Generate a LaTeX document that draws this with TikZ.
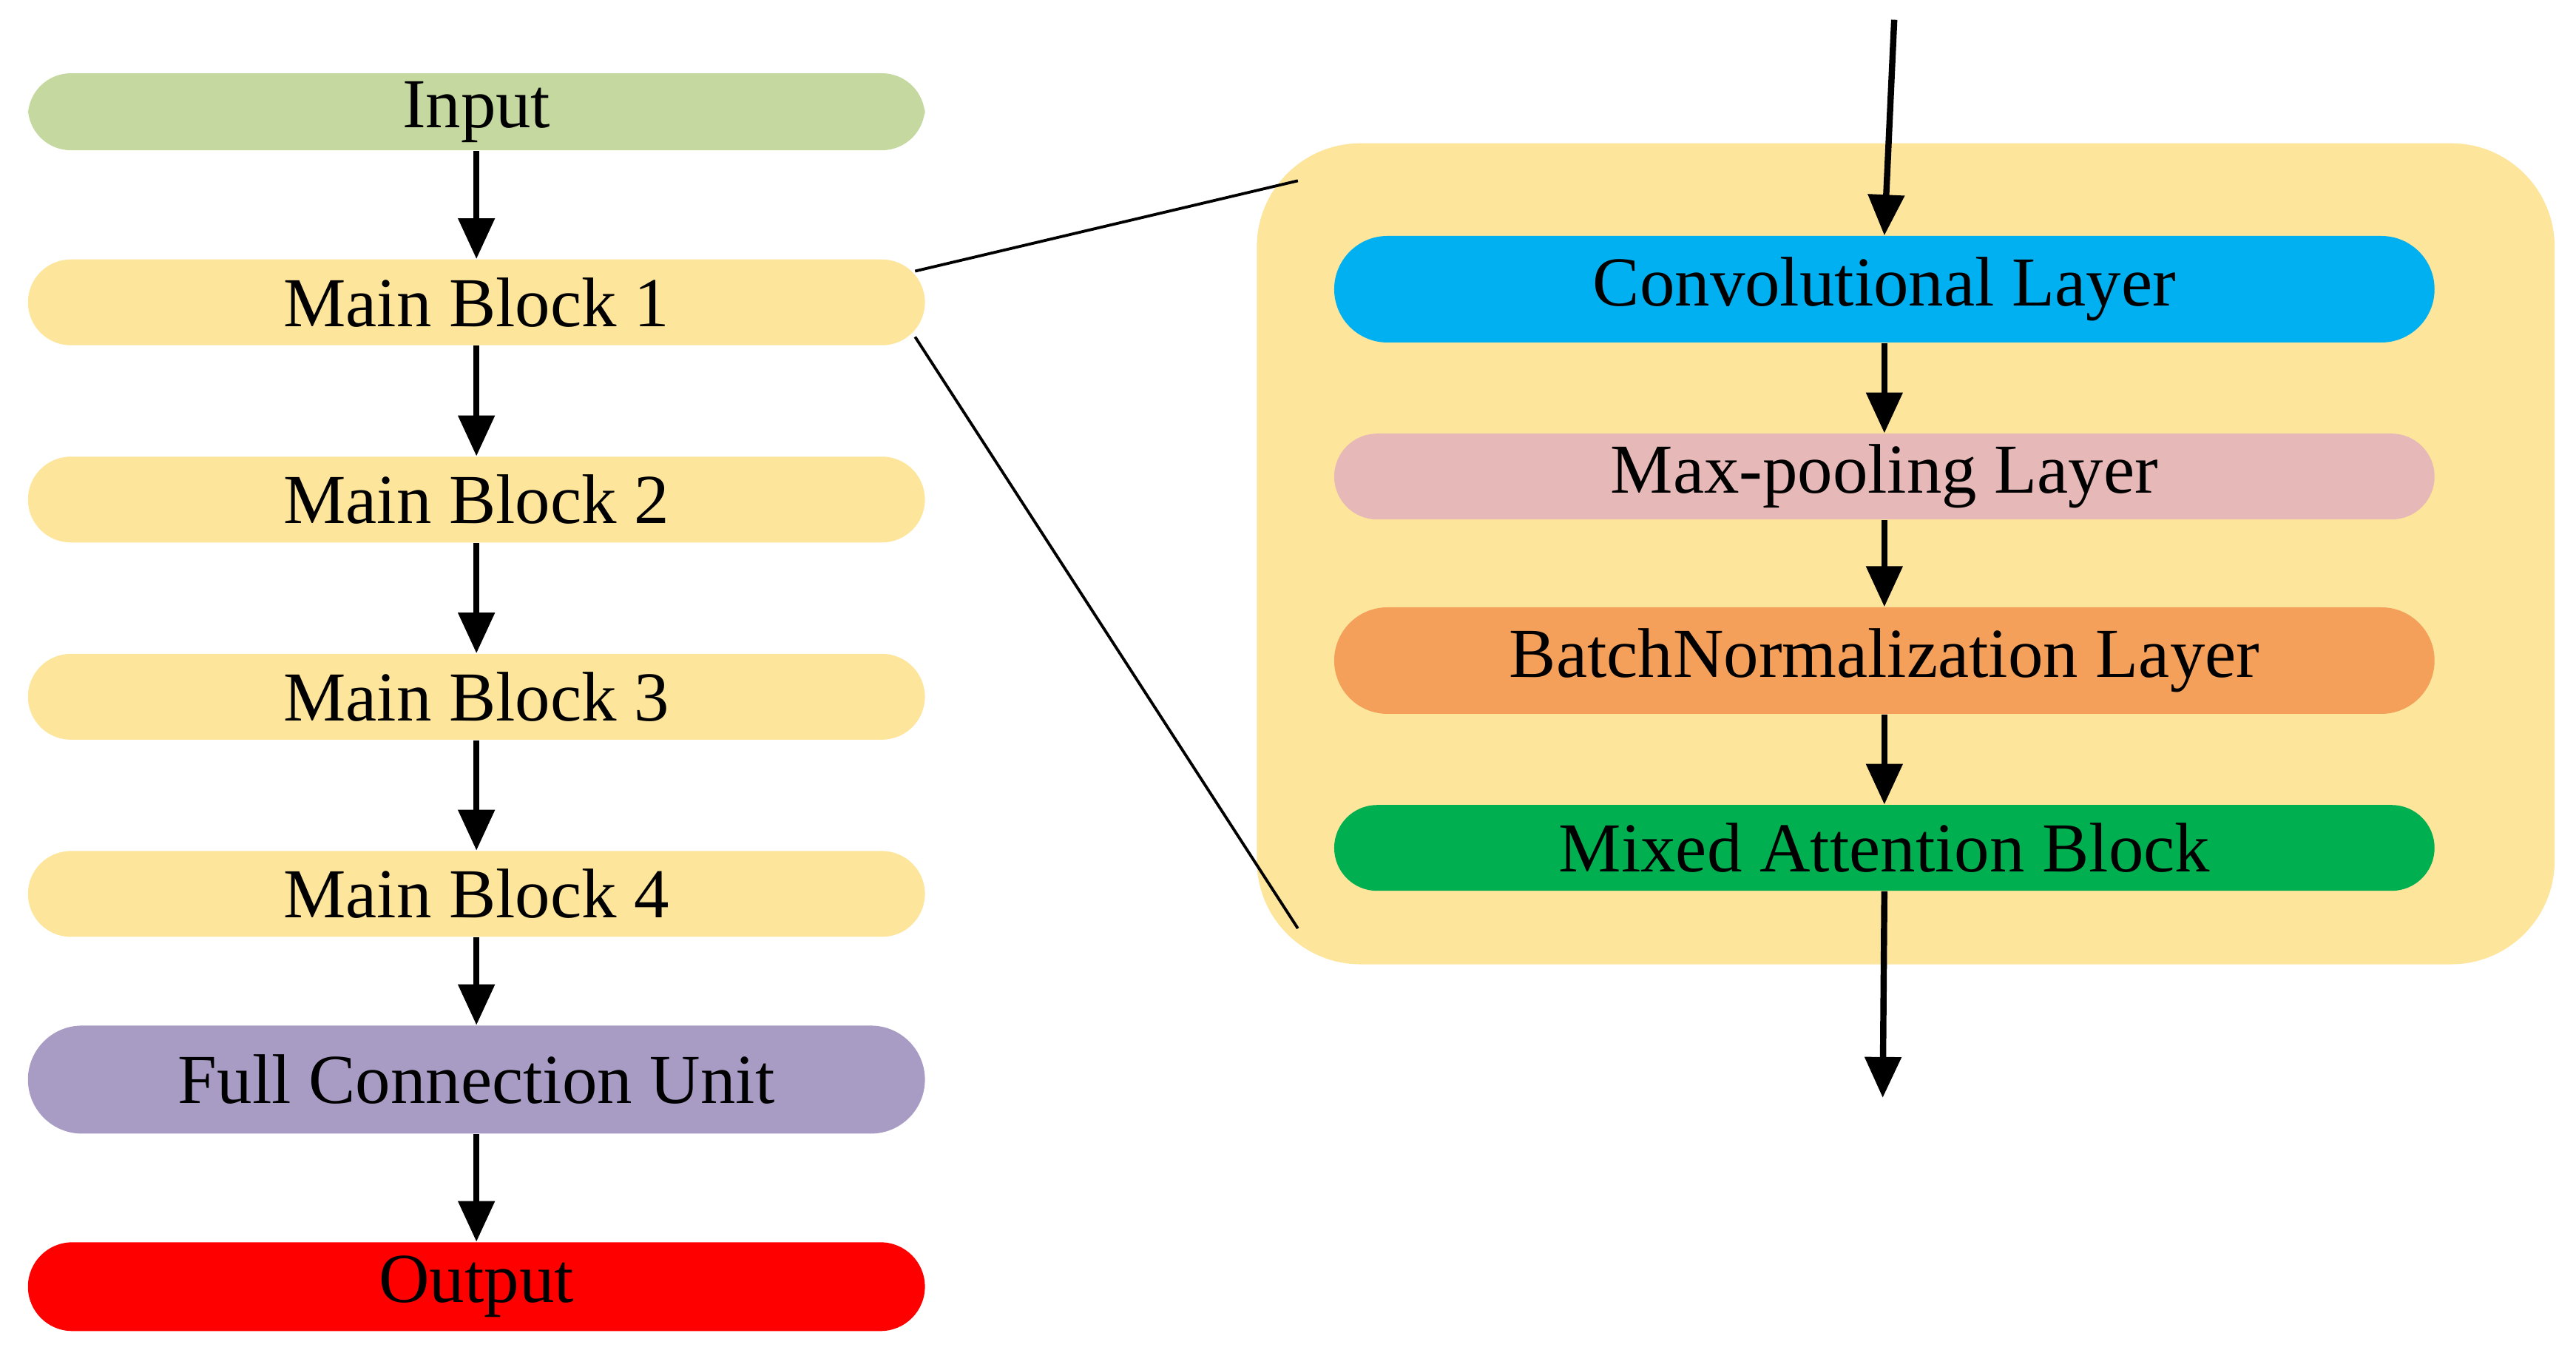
\documentclass[tikz,border=0pt]{standalone}
\usepackage{fontspec}
\setmainfont{Liberation Serif}
\usetikzlibrary{arrows.meta}
\definecolor{cin}{HTML}{C4D8A0}
\definecolor{cmb}{HTML}{FDE59C}
\definecolor{cfc}{HTML}{A99CC4}
\definecolor{cout}{HTML}{FF0000}
\definecolor{cconv}{HTML}{00B0F0}
\definecolor{cmp}{HTML}{E6B9B8}
\definecolor{cbn}{HTML}{F4A05A}
\definecolor{cma}{HTML}{00B050}
\tikzset{
 lb/.style={minimum width=12.13cm, minimum height=1.16cm, rounded corners=0.58cm, inner sep=0pt, font=\fontsize{27}{30}\selectfont},
 rb/.style={minimum width=14.88cm, minimum height=1.16cm, rounded corners=0.58cm, inner sep=0pt, font=\fontsize{27}{30}\selectfont},
 arr/.style={line width=2.4pt, -{Triangle[length=0.55cm,width=0.48cm]}},
 thin/.style={line width=1.1pt}
}
\begin{document}
\begin{tikzpicture}[x=0.02221cm,y=-0.02221cm]
\useasboundingbox (0,0) rectangle (1568,823);
\node[lb, fill=cin, minimum height=1.04cm] (in) at (290,68) {Input};
\node[lb, fill=cmb] (m1) at (290,184) {Main Block 1};
\node[lb, fill=cmb] (m2) at (290,304) {Main Block 2};
\node[lb, fill=cmb] (m3) at (290,424) {Main Block 3};
\node[lb, fill=cmb] (m4) at (290,544) {Main Block 4};
\node[lb, fill=cfc, minimum height=1.46cm, rounded corners=0.73cm] (fc) at (290,657) {Full Connection Unit};
\node[lb, fill=cout, minimum height=1.2cm, rounded corners=0.6cm] (out) at (290,783) {Output};
\draw[arr] (290,92) -- (m1.north);
\draw[arr] (m1.south) -- (m2.north);
\draw[arr] (m2.south) -- (m3.north);
\draw[arr] (m3.south) -- (m4.north);
\draw[arr] (m4.south) -- (fc.north);
\draw[arr] (fc.south) -- (out.north);
\node[fill=cmb, minimum width=17.55cm, minimum height=11.1cm, rounded corners=1.4cm, inner sep=0pt] (cont) at (1160,337) {};
\node[rb, fill=cconv, minimum height=1.44cm, rounded corners=0.72cm] (cv) at (1147,176) {Convolutional Layer};
\node[rb, fill=cmp] (mp) at (1147,290) {Max-pooling Layer};
\node[rb, fill=cbn, minimum height=1.44cm, rounded corners=0.72cm] (bn) at (1147,402) {BatchNormalization Layer};
\node[rb, fill=cma] (ma) at (1147,516) {Mixed Attention Block};
\coordinate (top) at (1153,12);
\coordinate (bot) at (1146,668);
\draw[arr] (top) -- (cv.north);
\draw[arr] (cv.south) -- (mp.north);
\draw[arr] (mp.south) -- (bn.north);
\draw[arr] (bn.south) -- (ma.north);
\draw[arr] (ma.south) -- (bot);
\coordinate (c1) at (790,110);
\coordinate (c2) at (790,565);
\draw[thin] (557,165) -- (c1);
\draw[thin] (557,205) -- (c2);
\end{tikzpicture}
\end{document}
